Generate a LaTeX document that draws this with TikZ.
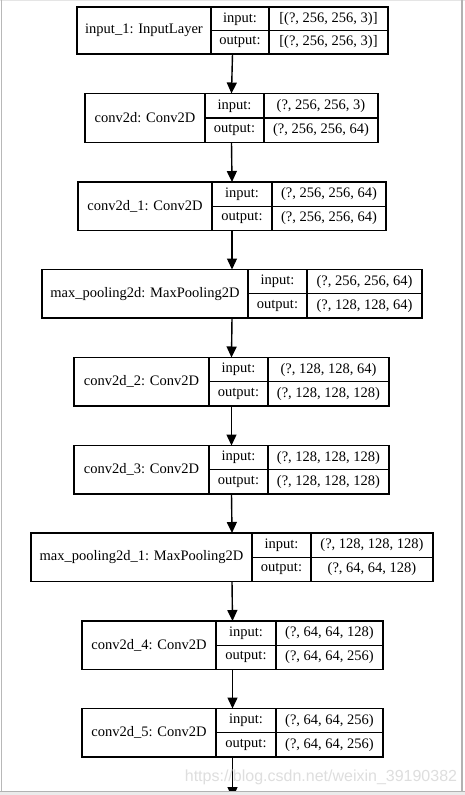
\documentclass[tikz,border=0pt]{standalone}
\usepackage{fontspec}
\setmainfont{Liberation Serif}
\newfontfamily\wmfont{Liberation Sans}
\usetikzlibrary{arrows.meta}
\tikzset{
  cell/.style={draw=black, line width=1.1pt, inner sep=0pt, outer sep=0pt,
    anchor=north west, font=\fontsize{14.5}{16}\selectfont, text=black},
  whole/.style={inner sep=0pt, outer sep=0pt, anchor=north west},
  arr/.style={draw=black, line width=1.4pt, -{Triangle[length=11pt,width=10pt]}},
  frameline/.style={line width=1pt},
  watermark/.style={font=\wmfont\fontsize{16}{18}\selectfont, text=black!13, inner sep=0pt},
}
% #1 id, #2 name, #3 x0, #4 x1, #5 x2, #6 x3, #7 ytop, #8 input, #9 output
\newcommand\mylayer[9]{%
  \pgfmathsetmacro\wa{#4-#3}%
  \pgfmathsetmacro\wb{#5-#4}%
  \pgfmathsetmacro\wc{#6-#5}%
  \pgfmathsetmacro\wt{#6-#3}%
  \pgfmathsetmacro\ymid{#7+\hb}%
  \node[whole, minimum width=\wt pt, minimum height=\hh pt] (#1) at (#3,#7) {};
  \node[cell, minimum width=\wa pt, minimum height=\hh pt] (#1-n) at (#3,#7) {#2};
  \node[cell, minimum width=\wb pt, minimum height=\hb pt] (#1-il) at (#4,#7) {input:};
  \node[cell, minimum width=\wb pt, minimum height=\hb pt] (#1-ol) at (#4,\ymid) {output:};
  \node[cell, minimum width=\wc pt, minimum height=\hb pt] (#1-iv) at (#5,#7) {#8};
  \node[cell, minimum width=\wc pt, minimum height=\hb pt] (#1-ov) at (#5,\ymid) {#9};
}
\begin{document}
\begin{tikzpicture}[x=1pt, y=-1pt]
\useasboundingbox (0,0) rectangle (465,795);
\fill[white] (0,0) rectangle (465,795);
\draw[frameline, black!10] (0,0.8) -- (465,0.8);
\draw[frameline, black!28] (1.5,0) -- (1.5,791);
\draw[frameline, black!30, line width=1.5pt] (462,0) -- (462,791);

\def\hh{47}\def\hb{23.5}
\mylayer{L0}{input\_1: InputLayer}{77}{211}{269}{388}{7}{[(?, 256, 256, 3)]}{[(?, 256, 256, 3)]}
\def\hh{49}\def\hb{24.5}
\mylayer{L1}{conv2d: Conv2D}{85}{205}{264}{378}{93.5}{(?, 256, 256, 3)}{(?, 256, 256, 64)}
\def\hh{48.5}\def\hb{24.25}
\mylayer{L2}{conv2d\_1: Conv2D}{78}{212}{272}{386}{182}{(?, 256, 256, 64)}{(?, 256, 256, 64)}
\mylayer{L3}{max\_pooling2d: MaxPooling2D}{42}{248}{307}{422}{269.5}{(?, 256, 256, 64)}{(?, 128, 128, 64)}
\mylayer{L4}{conv2d\_2: Conv2D}{74}{209}{268}{389}{357.5}{(?, 128, 128, 64)}{(?, 128, 128, 128)}
\mylayer{L5}{conv2d\_3: Conv2D}{74}{209}{268}{389}{445.5}{(?, 128, 128, 128)}{(?, 128, 128, 128)}
\mylayer{L6}{max\_pooling2d\_1: MaxPooling2D}{31}{252}{311}{433}{533}{(?, 128, 128, 128)}{(?, 64, 64, 128)}
\mylayer{L7}{conv2d\_4: Conv2D}{82}{216}{276}{383}{621}{(?, 64, 64, 128)}{(?, 64, 64, 256)}
\mylayer{L8}{conv2d\_5: Conv2D}{82}{216}{276}{383}{708.5}{(?, 64, 64, 256)}{(?, 64, 64, 256)}

\coordinate (next) at (232.5,798);
\draw[arr] (L0.south) -- (L1.north);
\draw[arr] (L1.south) -- (L2.north);
\draw[arr] (L2.south) -- (L3.north);
\draw[arr] (L3.south) -- (L4.north);
\draw[arr] (L4.south) -- (L5.north);
\draw[arr] (L5.south) -- (L6.north);
\draw[arr] (L6.south) -- (L7.north);
\draw[arr] (L7.south) -- (L8.north);
\draw[arr] (L8.south) -- (next);

\node[watermark] (wm) at (321,777) {https://blog.csdn.net/weixin\_39190382};

\fill[black!8] (0,791) rectangle (465,795);
\draw[frameline, black!30] (0,791) -- (465,791);
\end{tikzpicture}
\end{document}
